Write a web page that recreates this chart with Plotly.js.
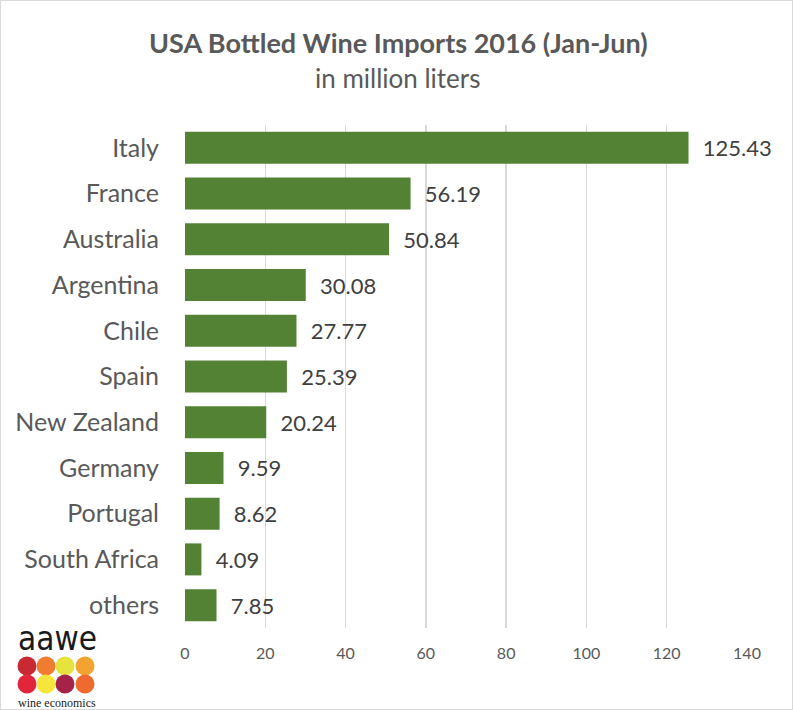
<!DOCTYPE html>
<html>
<head>
<meta charset="utf-8">
<script src="https://cdn.plot.ly/plotly-3.0.1.min.js"></script>
<style>
html,body{margin:0;padding:0;background:#fff;}
#chart{width:791px;height:708px;border:1px solid #d9d9d9;}
</style>
</head>
<body>
<div id="chart"></div>
<script>
var countries = ["Italy","France","Australia","Argentina","Chile","Spain","New Zealand","Germany","Portugal","South Africa","others"];
var imports = [125.43,56.19,50.84,30.08,27.77,25.39,20.24,9.59,8.62,4.09,7.85];
var xTicks = [0,20,40,60,80,100,120,140];
var titleText = "<b>USA Bottled Wine Imports 2016 (Jan-Jun)</b>";
var subtitleText = "in million liters";

var W = 791, H = 708;
var L = 184, R = 45, T = 124, B = 81;
var pw = W - L - R, ph = H - T - B;
function px(x){ return (x - L) / pw; }
function py(y){ return (H - B - y) / ph; }

var font = "Lato, 'Open Sans', sans-serif";

var trace = {
  type: "bar",
  orientation: "h",
  y: countries,
  x: imports,
  marker: {color: "#548235"},
  text: imports.map(function(v){ return "  " + v.toFixed(2); }),
  textposition: "outside",
  cliponaxis: false,
  textfont: {family: font, size: 22, color: "#404040"},
  hoverinfo: "x+y"
};

var dotColors = [["#c72a32","#ef7c30","#e6e23e","#f3a430"],["#e3253c","#f6e53b","#a52349","#ee6a2f"]];
var dotX = [26,45,64,84], dotY = [665,683], r = 9.5;
var shapes = [];
for (var i=0;i<2;i++) for (var j=0;j<4;j++) {
  shapes.push({type:"circle", xref:"paper", yref:"paper",
    x0:px(dotX[j]-r), x1:px(dotX[j]+r), y0:py(dotY[i]+r), y1:py(dotY[i]-r),
    fillcolor:dotColors[i][j], line:{width:0}});
}

var layout = {
  width: W, height: H,
  margin: {l:L, r:R, t:T, b:B, pad:0},
  paper_bgcolor: "#ffffff", plot_bgcolor: "#ffffff",
  showlegend: false,
  bargap: 0.3,
  xaxis: {
    range: [0,140], tickvals: xTicks, ticktext: xTicks.map(String),
    showgrid: true, gridcolor: "#d9d9d9", gridwidth: 1.3,
    zeroline: false, showline: false,
    ticks: "", tickfont: {family: font, size: 16, color: "#595959"},
    ticklabelstandoff: 14, fixedrange: true
  },
  yaxis: {
    autorange: "reversed", type: "category",
    showgrid: false, zeroline: false, showline: false,
    ticks: "", tickfont: {family: font, size: 25, color: "#595959"},
    ticklabelstandoff: 25, fixedrange: true
  },
  annotations: [
    {text: titleText, xref:"paper", yref:"paper", x:px(397), y:py(42), xanchor:"center", yanchor:"middle",
     showarrow:false, font:{family:font, size:27, color:"#595959"}},
    {text: subtitleText, xref:"paper", yref:"paper", x:px(396), y:py(77), xanchor:"center", yanchor:"middle",
     showarrow:false, font:{family:font, size:26, color:"#595959"}},
    {text: "aawe", xref:"paper", yref:"paper", x:px(15), y:py(637), xanchor:"left", yanchor:"middle",
     showarrow:false, font:{family:"'DejaVu Sans Condensed', 'DejaVu Sans', sans-serif", size:33, color:"#1a1a1a"}},
    {text: "wine economics", xref:"paper", yref:"paper", x:px(15), y:py(702), xanchor:"left", yanchor:"middle",
     showarrow:false, font:{family:"'Liberation Serif', serif", size:12, color:"#1a1a1a"}}
  ],
  shapes: shapes
};

Plotly.newPlot("chart", [trace], layout, {displayModeBar:false, staticPlot:true});
</script>
</body>
</html>
